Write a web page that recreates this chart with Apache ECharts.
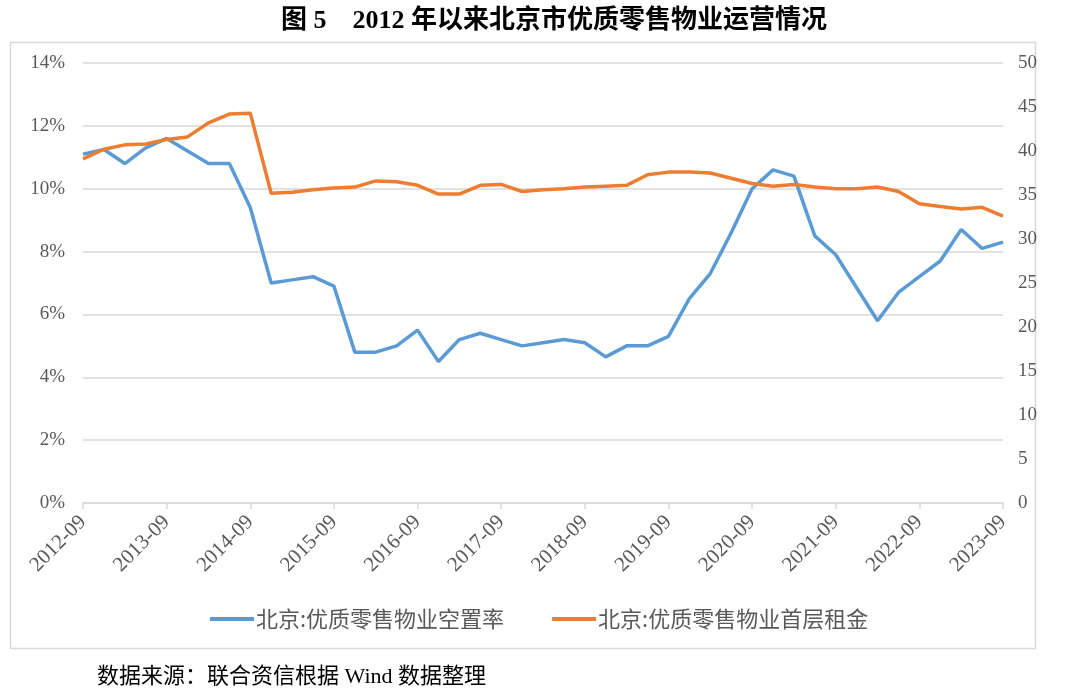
<!DOCTYPE html>
<html><head><meta charset="utf-8">
<script src="https://cdn.jsdelivr.net/npm/echarts@6/dist/echarts.min.js"></script>
<style>html,body{margin:0;padding:0;background:#fff}#c{width:1080px;height:695px}</style>
</head><body><div id="c"></div>
<script>
const quarters = [];
for (let y = 2012; y <= 2023; y++) {
  for (const m of ['03','06','09','12']) {
    if ((y === 2012 && (m === '03' || m === '06')) || (y === 2023 && m === '12')) continue;
    quarters.push(y + '-' + m);
  }
}
const vacancyRate = [11.1,11.25,10.8,11.3,11.6,11.2,10.8,10.8,9.4,7.0,7.1,7.2,6.9,4.8,4.8,5.0,5.5,4.5,5.2,5.4,5.2,5.0,5.1,5.2,5.1,4.65,5.0,5.0,5.3,6.5,7.3,8.6,10.0,10.6,10.4,8.5,7.9,6.85,5.8,6.7,7.2,7.7,8.7,8.1,8.3];
const groundRent = [39.1,40.2,40.7,40.8,41.3,41.6,43.2,44.2,44.3,35.2,35.3,35.6,35.8,35.9,36.6,36.5,36.1,35.1,35.1,36.1,36.2,35.4,35.6,35.7,35.9,36.0,36.1,37.3,37.6,37.6,37.5,36.9,36.3,36.0,36.2,35.9,35.7,35.7,35.9,35.4,34.0,33.7,33.4,33.6,32.6];
const leftTicks = [0,2,4,6,8,10,12,14];
const rightTicks = [0,5,10,15,20,25,30,35,40,45,50];
const seriesNames = ['北京:优质零售物业空置率','北京:优质零售物业首层租金'];

const chart = echarts.init(document.getElementById('c'));
const serif = '"Liberation Serif","Times New Roman",serif';
const cjk = '"Noto Sans CJK SC",sans-serif';
chart.setOption({
  animation: false,
  title: {
    text: '图 5　2012 年以来北京市优质零售物业运营情况',
    left: 549, top: 3, textAlign: 'center',
    textStyle: { fontFamily: '"Liberation Serif","Noto Sans CJK SC",serif', fontWeight: 'bold', fontSize: 26, color: '#000' }
  },
  graphic: [
    { type: 'rect', shape: { x: 10.5, y: 42.5, width: 1025, height: 606 }, style: { fill: 'none', stroke: '#d9d9d9', lineWidth: 1.5 }, z: -1 },
    { type: 'text', left: 97, top: 666, style: { text: '数据来源：联合资信根据 Wind 数据整理', font: '22px "Liberation Serif","Noto Sans CJK SC",serif', fill: '#000' } }
  ],
  legend: {
    bottom: 60, left: 205, itemGap: 48, itemWidth: 44, itemHeight: 4,
    icon: 'rect',
    data: seriesNames,
    textStyle: { fontFamily: cjk, fontSize: 22, color: '#595959', padding: [0,0,0,-3] }
  },
  grid: { left: 83, right: 77, top: 63, bottom: 192 },
  xAxis: {
    type: 'category', data: quarters, boundaryGap: false,
    axisLine: { lineStyle: { color: '#d9d9d9', width: 1.5 } },
    axisTick: { interval: 3, length: 6, lineStyle: { color: '#d9d9d9', width: 1.5 } },
    axisLabel: { interval: 3, rotate: 45, fontFamily: serif, fontSize: 21, color: '#595959', margin: 16 }
  },
  yAxis: [
    { type: 'value', min: 0, max: 14, interval: 2,
      axisLine: { show: false }, axisTick: { show: false },
      splitLine: { lineStyle: { color: '#d9d9d9', width: 1.5 } },
      axisLabel: { formatter: v => leftTicks.includes(v) ? v + '%' : '', fontFamily: serif, fontSize: 19, color: '#595959', margin: 18 } },
    { type: 'value', min: 0, max: 50, interval: 5,
      axisLine: { show: false }, axisTick: { show: false }, splitLine: { show: false },
      axisLabel: { formatter: v => rightTicks.includes(v) ? String(v) : '', fontFamily: serif, fontSize: 19, color: '#595959', margin: 15 } }
  ],
  series: [
    { name: seriesNames[0], type: 'line', yAxisIndex: 0, data: vacancyRate, symbol: 'none',
      lineStyle: { color: '#5B9BD5', width: 3.5 }, itemStyle: { color: '#5B9BD5' } },
    { name: seriesNames[1], type: 'line', yAxisIndex: 1, data: groundRent, symbol: 'none',
      lineStyle: { color: '#ED7D31', width: 3.5 }, itemStyle: { color: '#ED7D31' } }
  ]
});
</script></body></html>
